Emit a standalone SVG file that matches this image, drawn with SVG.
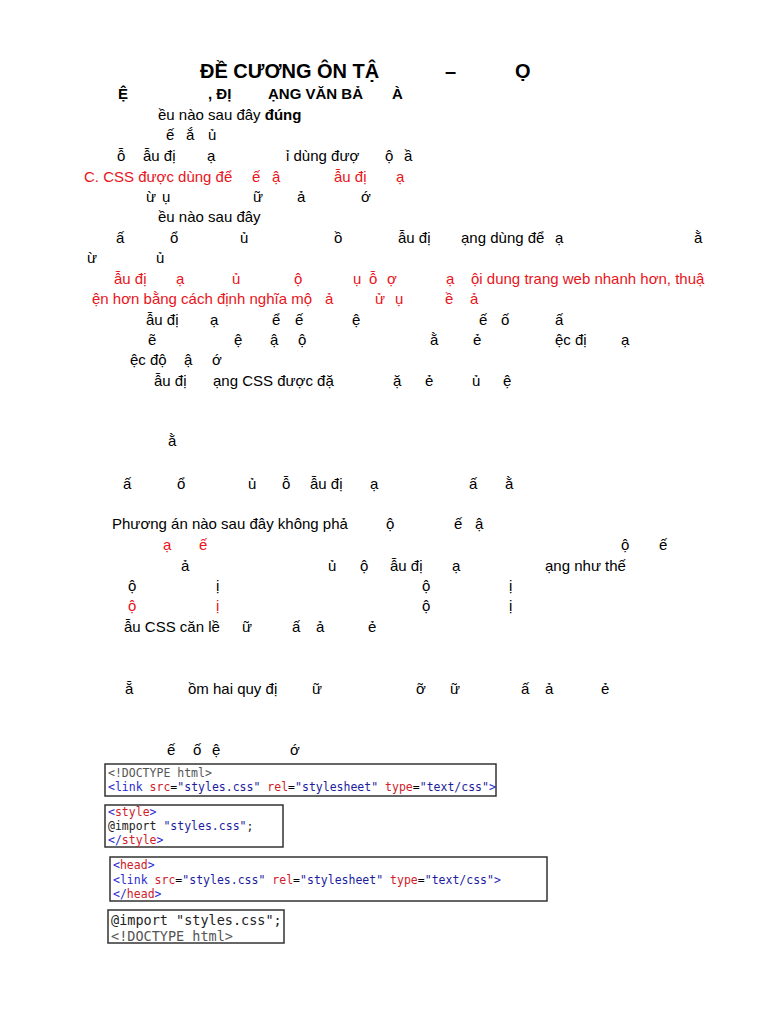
<svg xmlns="http://www.w3.org/2000/svg" width="768" height="1024" viewBox="0 0 768 1024">
<style>
text{font-family:"Liberation Sans",Arial,sans-serif;font-size:15px;fill:#000}
.b{font-weight:bold}.t{font-size:20px;font-weight:bold}.r{fill:#e8141b}
.m{font-family:"DejaVu Sans Mono","Liberation Mono",monospace;font-size:11.5px}
.g{fill:#555}.tg{fill:#2a2ad0}.at{fill:#d0202a}.s{fill:#1c1c9e}.k{fill:#222}
.box{fill:#fff;stroke:#333;stroke-width:1.5}
</style>
<rect width="768" height="1024" fill="#fff"/>
<g id="text">
<text class="t" x="200" y="78">ĐỀ CƯƠNG ÔN TẬ</text><text class="t" x="445" y="78">–</text><text class="t" x="515" y="78">Ọ</text>
<text class="b" x="118" y="99">Ệ</text><text class="b" x="208" y="99">, ĐỊ</text><text class="b" x="268" y="99">ẠNG VĂN BẢ</text><text class="b" x="392" y="99">À</text>
<text x="158" y="120">ều nào sau đây <tspan class="b">đúng</tspan></text>
<text x="166" y="140">ế</text><text x="186" y="140">ắ</text><text x="208" y="140">ủ</text>
<text x="117" y="161">ỗ</text><text x="143" y="161">ẫu đị</text><text x="207" y="161">ạ</text><text x="286" y="161">ỉ dùng đượ</text><text x="385" y="161">ộ</text><text x="404" y="161">ầ</text>
<text class="r" x="84" y="182">C. CSS được dùng để</text><text class="r" x="252" y="182">ế</text><text class="r" x="272" y="182">ậ</text><text class="r" x="334" y="182">ẫu đị</text><text class="r" x="396" y="182">ạ</text>
<text x="146" y="202">ừ</text><text x="162" y="202">ụ</text><text x="253" y="202">ữ</text><text x="297" y="202">ả</text><text x="361" y="202">ớ</text>
<text x="158" y="222">ều nào sau đây</text>
<text x="116" y="243">ấ</text><text x="170" y="243">ổ</text><text x="240" y="243">ủ</text><text x="334" y="243">ồ</text><text x="398" y="243">ẫu đị</text><text x="461" y="243">ạng dùng để</text><text x="555" y="243">ạ</text><text x="694" y="243">ằ</text>
<text x="87" y="263">ừ</text><text x="156" y="263">ủ</text>
<text class="r" x="114" y="284">ẫu đị</text><text class="r" x="176" y="284">ạ</text><text class="r" x="232" y="284">ủ</text><text class="r" x="294" y="284">ộ</text><text class="r" x="353" y="284">ụ</text><text class="r" x="369" y="284">ỗ</text><text class="r" x="387" y="284">ợ</text><text class="r" x="446" y="284">ạ</text><text class="r" x="471" y="284">ội dung trang web nhanh hơn, thuậ</text>
<text class="r" x="92" y="304">ện hơn bằng cách định nghĩa mộ</text><text class="r" x="325" y="304">ả</text><text class="r" x="375" y="304">ử</text><text class="r" x="395" y="304">ụ</text><text class="r" x="445" y="304">ề</text><text class="r" x="470" y="304">ả</text>
<text x="146" y="325">ẫu đị</text><text x="210" y="325">ạ</text><text x="272" y="325">ể</text><text x="295" y="325">ế</text><text x="352" y="325">ệ</text><text x="479" y="325">ế</text><text x="501" y="325">ố</text><text x="555" y="325">ấ</text>
<text x="148" y="345">ẽ</text><text x="234" y="345">ệ</text><text x="270" y="345">ậ</text><text x="298" y="345">ộ</text><text x="430" y="345">ằ</text><text x="473" y="345">ẻ</text><text x="555" y="345">ệc đị</text><text x="621" y="345">ạ</text>
<text x="130" y="365">ệc độ</text><text x="184" y="365">ậ</text><text x="212" y="365">ớ</text>
<text x="154" y="386">ẫu đị</text><text x="213" y="386">ạng CSS được đặ</text><text x="393" y="386">ặ</text><text x="425" y="386">ẻ</text><text x="472" y="386">ủ</text><text x="503" y="386">ệ</text>
<text x="168" y="446">ằ</text>
<text x="123" y="489">ấ</text><text x="177" y="489">ổ</text><text x="248" y="489">ủ</text><text x="282" y="489">ỗ</text><text x="310" y="489">ẫu đị</text><text x="370" y="489">ạ</text><text x="469" y="489">ấ</text><text x="505" y="489">ằ</text>
<text x="112" y="529">Phương án nào sau đây không phả</text><text x="386" y="529">ộ</text><text x="454" y="529">ế</text><text x="475" y="529">ậ</text>
<text class="r" x="163" y="550">ạ</text><text class="r" x="199" y="550">ế</text><text x="621" y="550">ộ</text><text x="659" y="550">ế</text>
<text x="181" y="571">ả</text><text x="328" y="571">ủ</text><text x="360" y="571">ộ</text><text x="390" y="571">ẫu đị</text><text x="452" y="571">ạ</text><text x="545" y="571">ạng như thế</text>
<text x="128" y="591">ộ</text><text x="216" y="591">ị</text><text x="422" y="591">ộ</text><text x="509" y="591">ị</text>
<text class="r" x="128" y="611">ộ</text><text class="r" x="216" y="611">ị</text><text x="422" y="611">ộ</text><text x="509" y="611">ị</text>
<text x="124" y="632">ẫu CSS căn lề</text><text x="242" y="632">ữ</text><text x="292" y="632">ấ</text><text x="316" y="632">ả</text><text x="368" y="632">ẻ</text>
<text x="125" y="694">ẵ</text><text x="188" y="694">ồm hai quy đị</text><text x="312" y="694">ữ</text><text x="416" y="694">ỡ</text><text x="450" y="694">ữ</text><text x="521" y="694">ấ</text><text x="545" y="694">ả</text><text x="601" y="694">ẻ</text>
<text x="167" y="755">ế</text><text x="193" y="755">ố</text><text x="212" y="755">ệ</text><text x="290" y="755">ớ</text>
</g>
<g id="code1"><rect class="box" x="105" y="764" width="391" height="32"/>
<text class="m g" x="108" y="777">&lt;!DOCTYPE html&gt;</text>
<text class="m" x="108" y="791"><tspan class="tg">&lt;link</tspan> <tspan class="at">src</tspan>=<tspan class="s">"styles.css"</tspan> <tspan class="at">rel</tspan>=<tspan class="s">"stylesheet"</tspan> <tspan class="at">type</tspan>=<tspan class="s">"text/css"</tspan><tspan class="tg">&gt;</tspan></text></g>
<g id="code2"><rect class="box" x="105" y="805" width="178" height="42"/>
<text class="m tg" x="108" y="816">&lt;<tspan class="at">style</tspan>&gt;</text>
<text class="m k" x="108" y="830">    @import <tspan class="s">"styles.css"</tspan>;</text>
<text class="m tg" x="108" y="844">&lt;/<tspan class="at">style</tspan>&gt;</text></g>
<g id="code3"><rect class="box" x="110" y="857" width="437" height="44"/>
<text class="m tg" x="113" y="869">&lt;<tspan class="at">head</tspan>&gt;</text>
<text class="m" x="113" y="884">    <tspan class="tg">&lt;link</tspan> <tspan class="at">src</tspan>=<tspan class="s">"styles.css"</tspan> <tspan class="at">rel</tspan>=<tspan class="s">"stylesheet"</tspan> <tspan class="at">type</tspan>=<tspan class="s">"text/css"</tspan><tspan class="tg">&gt;</tspan></text>
<text class="m tg" x="113" y="898">&lt;/<tspan class="at">head</tspan>&gt;</text></g>
<g id="code4"><rect class="box" x="108" y="910" width="176" height="33"/>
<text class="m k" x="111" y="925" style="font-size:13.5px">@import "styles.css";</text>
<text class="m g" x="111" y="941" style="font-size:13.5px">&lt;!DOCTYPE html&gt;</text></g>
</svg>
